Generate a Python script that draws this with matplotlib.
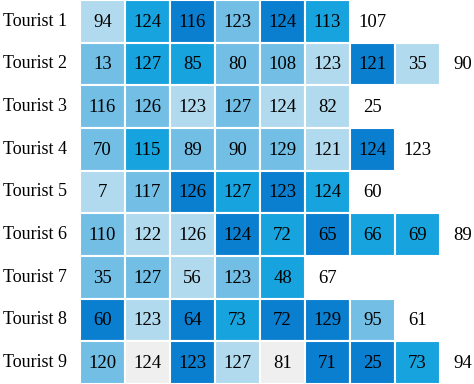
import matplotlib.pyplot as plt
from matplotlib.patches import Rectangle

tourists = ["Tourist 1", "Tourist 2", "Tourist 3", "Tourist 4", "Tourist 5",
            "Tourist 6", "Tourist 7", "Tourist 8", "Tourist 9"]

# numbers per row; the last one of each row sits without a coloured cell
values = [
    [94, 124, 116, 123, 124, 113, 107],
    [13, 127, 85, 80, 108, 123, 121, 35, 90],
    [116, 126, 123, 127, 124, 82, 25],
    [70, 115, 89, 90, 129, 121, 124, 123],
    [7, 117, 126, 127, 123, 124, 60],
    [110, 122, 126, 124, 72, 65, 66, 69, 89],
    [35, 127, 56, 123, 48, 67],
    [60, 123, 64, 73, 72, 129, 95, 61],
    [120, 124, 123, 127, 81, 71, 25, 73, 94],
]

# shade level of each coloured cell (0 grey .. 4 dark blue)
shades = [
    [1, 3, 4, 2, 4, 3],
    [2, 3, 3, 2, 2, 1, 4, 1],
    [2, 2, 1, 2, 1, 1],
    [2, 3, 2, 2, 2, 1, 4],
    [1, 2, 4, 3, 4, 3],
    [2, 1, 1, 4, 3, 4, 3, 3],
    [2, 2, 1, 2, 3],
    [4, 1, 4, 3, 4, 4, 2],
    [2, 0, 4, 1, 0, 4, 4, 3],
]

palette = ["#efefef", "#b2daee", "#72bee5", "#17a3de", "#0a7ecf"]

fig = plt.figure(figsize=(4.74, 3.84), dpi=100)
ax = fig.add_axes([80 / 474, 0, 1 - 80 / 474, 1])
ax.set_xlim(0, (474 - 80) / 45)
ax.set_ylim(len(tourists), 0)
ax.axis("off")

font = dict(family="Liberation Serif", fontsize=13)

for r, name in enumerate(tourists):
    ax.text(-0.29, r + 0.5, name, ha="right", va="center", **font)
    for c, s in enumerate(shades[r]):
        ax.add_patch(Rectangle((c, r), 1, 1, facecolor=palette[s],
                               edgecolor="white", linewidth=1.5))
    for c, v in enumerate(values[r]):
        ax.text(c + 0.5, r + 0.52, str(v), ha="center", va="center",
                clip_on=False, fontsize=13.5, family="Liberation Serif")

fig.savefig("out.png", dpi=100)
